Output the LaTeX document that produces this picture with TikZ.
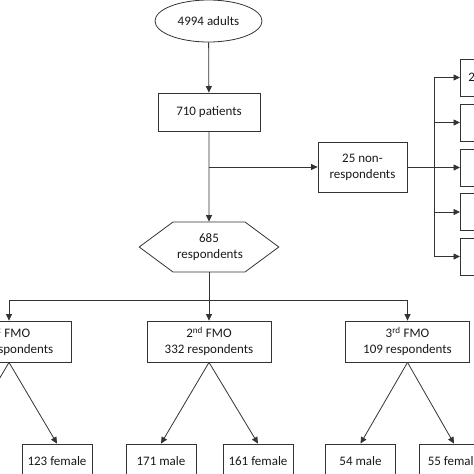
\documentclass[tikz,border=0pt]{standalone}
\usepackage{fontspec}
\setmainfont{Carlito}
\usetikzlibrary{arrows.meta,positioning,shapes.geometric,shapes.symbols}
\tikzset{
    %Define standard arrow tip
    >={Triangle[width=6pt,length=6.5pt]},
    %Define style for boxes
    kasse/.style={
           rectangle,
           draw=black!80, line width=0.8pt,
           align=center,
           inner sep=2pt},
    %Define style for the hexagon
    sekskant/.style={
           signal, signal to=east and west,
           signal pointer angle=73,
           draw=black!80, line width=0.8pt,
           align=center,
           minimum height=50pt, inner xsep=4pt, inner ysep=0pt},
    % Define arrow style
    pil/.style={
           ->,
           draw=black!80,
           line width=0.8pt},
    linje/.style={
           draw=black!80,
           line width=0.8pt}
}

\begin{document}
\begin{tikzpicture}[x=1pt,y=-1pt,font=\fontsize{13}{16}\selectfont,
                    text=black!90,
                    kid/.style={kasse,minimum width=70pt,minimum height=34pt},
                    side/.style={kasse,minimum height=37pt,text width=44pt,
                                 align=left,inner xsep=8pt}]
    \useasboundingbox (0,0) rectangle (474,474);
    \clip (0,0) rectangle (474,474);
    % main column
    \node (adults) [ellipse,draw=black!80,line width=0.8pt,
          minimum width=107pt,minimum height=42pt,inner sep=0pt] at (208.5,21)
          {4994 adults};
    \node (patients) [kasse,minimum width=102pt,minimum height=38pt] at (209,112)
          {710 patients};
    \node (nonresp) [kasse,minimum width=89pt,minimum height=50pt] at (362.5,167)
          {25 non-\\respondents};
    \node (resp) [sekskant,text width=64pt] at (209,247)
          {685\\respondents};
    % right column
    \node (r1) [side,anchor=west] at (460,77.5) {2};
    \node (r2) [side,anchor=west] at (460,122.5) {};
    \node (r3) [side,anchor=west] at (460,167.5) {};
    \node (r4) [side,anchor=west] at (460,212) {};
    \node (r5) [side,anchor=west] at (460,256.5) {};
    % FMO rounds
    \node (fmo1) [kasse,minimum width=124pt,minimum height=41pt] at (9,341.5)
          {1\textsuperscript{st} FMO\\244 respondents};
    \node (fmo2) [kasse,minimum width=124pt,minimum height=41pt] at (209,341.5)
          {2\textsuperscript{nd} FMO\\332 respondents};
    \node (fmo3) [kasse,minimum width=124pt,minimum height=41pt] at (407.5,341.5)
          {3\textsuperscript{rd} FMO\\109 respondents};
    % sex split
    \node (female1) [kid] at (57,461) {123 female};
    \node (male2) [kid] at (161,461) {171 male};
    \node (female2) [kid] at (258,461) {161 female};
    \node (male3) [kid] at (360.5,461) {54 male};
    \node (female3) [kid] at (454,461) {55 female};
    \coordinate (male1) at (-39,444);

    % connectors
    \draw[pil] (adults) -- (patients);
    \draw[pil] (patients) -- (resp);
    \coordinate (split) at (patients.south |- nonresp.west);
    \draw[pil] (split) -- (nonresp);
    \coordinate (trunk) at ([xshift=27pt]nonresp.east);
    \draw[linje] (nonresp) -- (trunk);
    \draw[linje] (trunk |- r1.west) -- (trunk |- r5.west);
    \foreach \r in {r1,r2,r3,r4,r5}
        \draw[pil] (trunk |- \r.west) -- (\r.west);
    \coordinate (fork) at (209,300);
    \draw[linje] (resp) -- (fork);
    \draw[linje] (fmo1.north |- fork) -- (fmo3.north |- fork);
    \foreach \f in {fmo1,fmo2,fmo3}
        \draw[pil] (\f.north |- fork) -- (\f.north);
    \draw[pil] (fmo1.south) -- (male1);
    \draw[pil] (fmo1.south) -- (female1.north);
    \draw[pil] (fmo2.south) -- (male2.north);
    \draw[pil] (fmo2.south) -- (female2.north);
    \draw[pil] (fmo3.south) -- (male3.north);
    \draw[pil] (fmo3.south) -- (female3.north);
\end{tikzpicture}
\end{document}
